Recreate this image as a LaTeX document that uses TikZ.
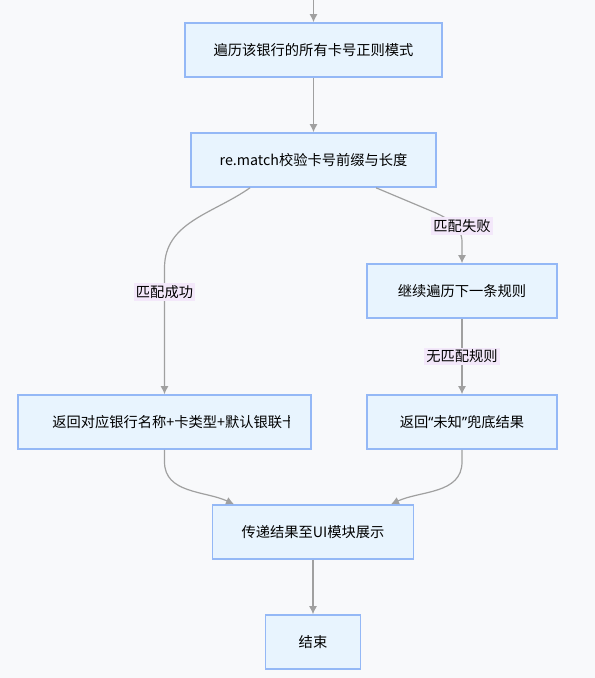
\documentclass[tikz,border=0pt]{standalone}
\usepackage{fontspec}
\setmainfont{Noto Sans CJK SC}
\newfontfamily\latinfont{Noto Sans}
\usetikzlibrary{arrows.meta, positioning, calc}

\definecolor{bgcol}{HTML}{F8F9FB}
\definecolor{boxfill}{HTML}{E8F4FE}
\definecolor{boxline}{HTML}{94B8F6}
\definecolor{linecol}{HTML}{A0A0A0}
\definecolor{labfill}{HTML}{F3E8FA}

\tikzset{
  flowbox/.style={rectangle, draw=boxline, fill=boxfill, line width=1.2pt, minimum height=40.5pt, inner sep=0pt, font=\fontsize{10.7}{12}\selectfont},
  flowarr/.style={-{Latex[length=6pt,width=6pt]}, draw=linecol, line width=0.9pt},
  edgelab/.style={fill=labfill, inner sep=1.5pt, font=\fontsize{10.7}{12}\selectfont}
}

\begin{document}
\begin{tikzpicture}[x=0.75pt, y=-0.75pt]
% background
\fill[bgcol] (0,0) rectangle (595,678);
\useasboundingbox (0,0) rectangle (595,678);

% nodes
\coordinate (top) at (313.5,0);
\node[flowbox, minimum width=192.75pt] (loop) at (313.5,50) {遍历该银行的所有卡号正则模式};
\node[flowbox, minimum width=183.75pt] (match) at (313.5,160) {re.match校验卡号前缀与长度};
\node[flowbox, minimum width=142.5pt] (next) at (462,291) {继续遍历下一条规则};
\node[flowbox, minimum width=219.75pt] (found) at (164.5,422) {};
\node[flowbox, minimum width=142.5pt] (unknown) at (462,422) {返回{\latinfont “}未知{\latinfont ”}兜底结果};
\node[flowbox, minimum width=150.75pt] (show) at (313,532) {传递结果至UI模块展示};
\node[flowbox, minimum width=71.25pt] (finish) at (313,642) {结束};

% clipped label of the left box
\begin{scope}
\clip (found.north west) rectangle (289,449);
\node[anchor=west, inner sep=0pt, font=\fontsize{10.7}{12}\selectfont] (foundtxt) at (52,422) {返回对应银行名称+卡类型+默认银联卡};
\end{scope}

% connectors
\draw[flowarr] (top) -- (loop);
\draw[flowarr] (loop) -- (match);
\draw[flowarr] ([xshift=-47.6pt]match.south) to[out=-145, in=90] (164.5,268) -- (164.5,292)
  node[edgelab] {匹配成功} -- (found.north);
\draw[flowarr] ([xshift=46.9pt]match.south) -- (436,213) to[out=-25, in=90] (462,242) -- (next.north)
  node[edgelab] at (462,226) {匹配失败};
\draw[flowarr] (next) -- node[edgelab] {无匹配规则} (unknown);
\draw[flowarr] (found.south) -- ++(0,12) to[out=-90, in=155] ([xshift=-59.25pt]show.north);
\draw[flowarr] (unknown.south) -- ++(0,12) to[out=-90, in=25] ([xshift=58.5pt]show.north);
\draw[flowarr] (show) -- (finish);
\end{tikzpicture}
\end{document}
